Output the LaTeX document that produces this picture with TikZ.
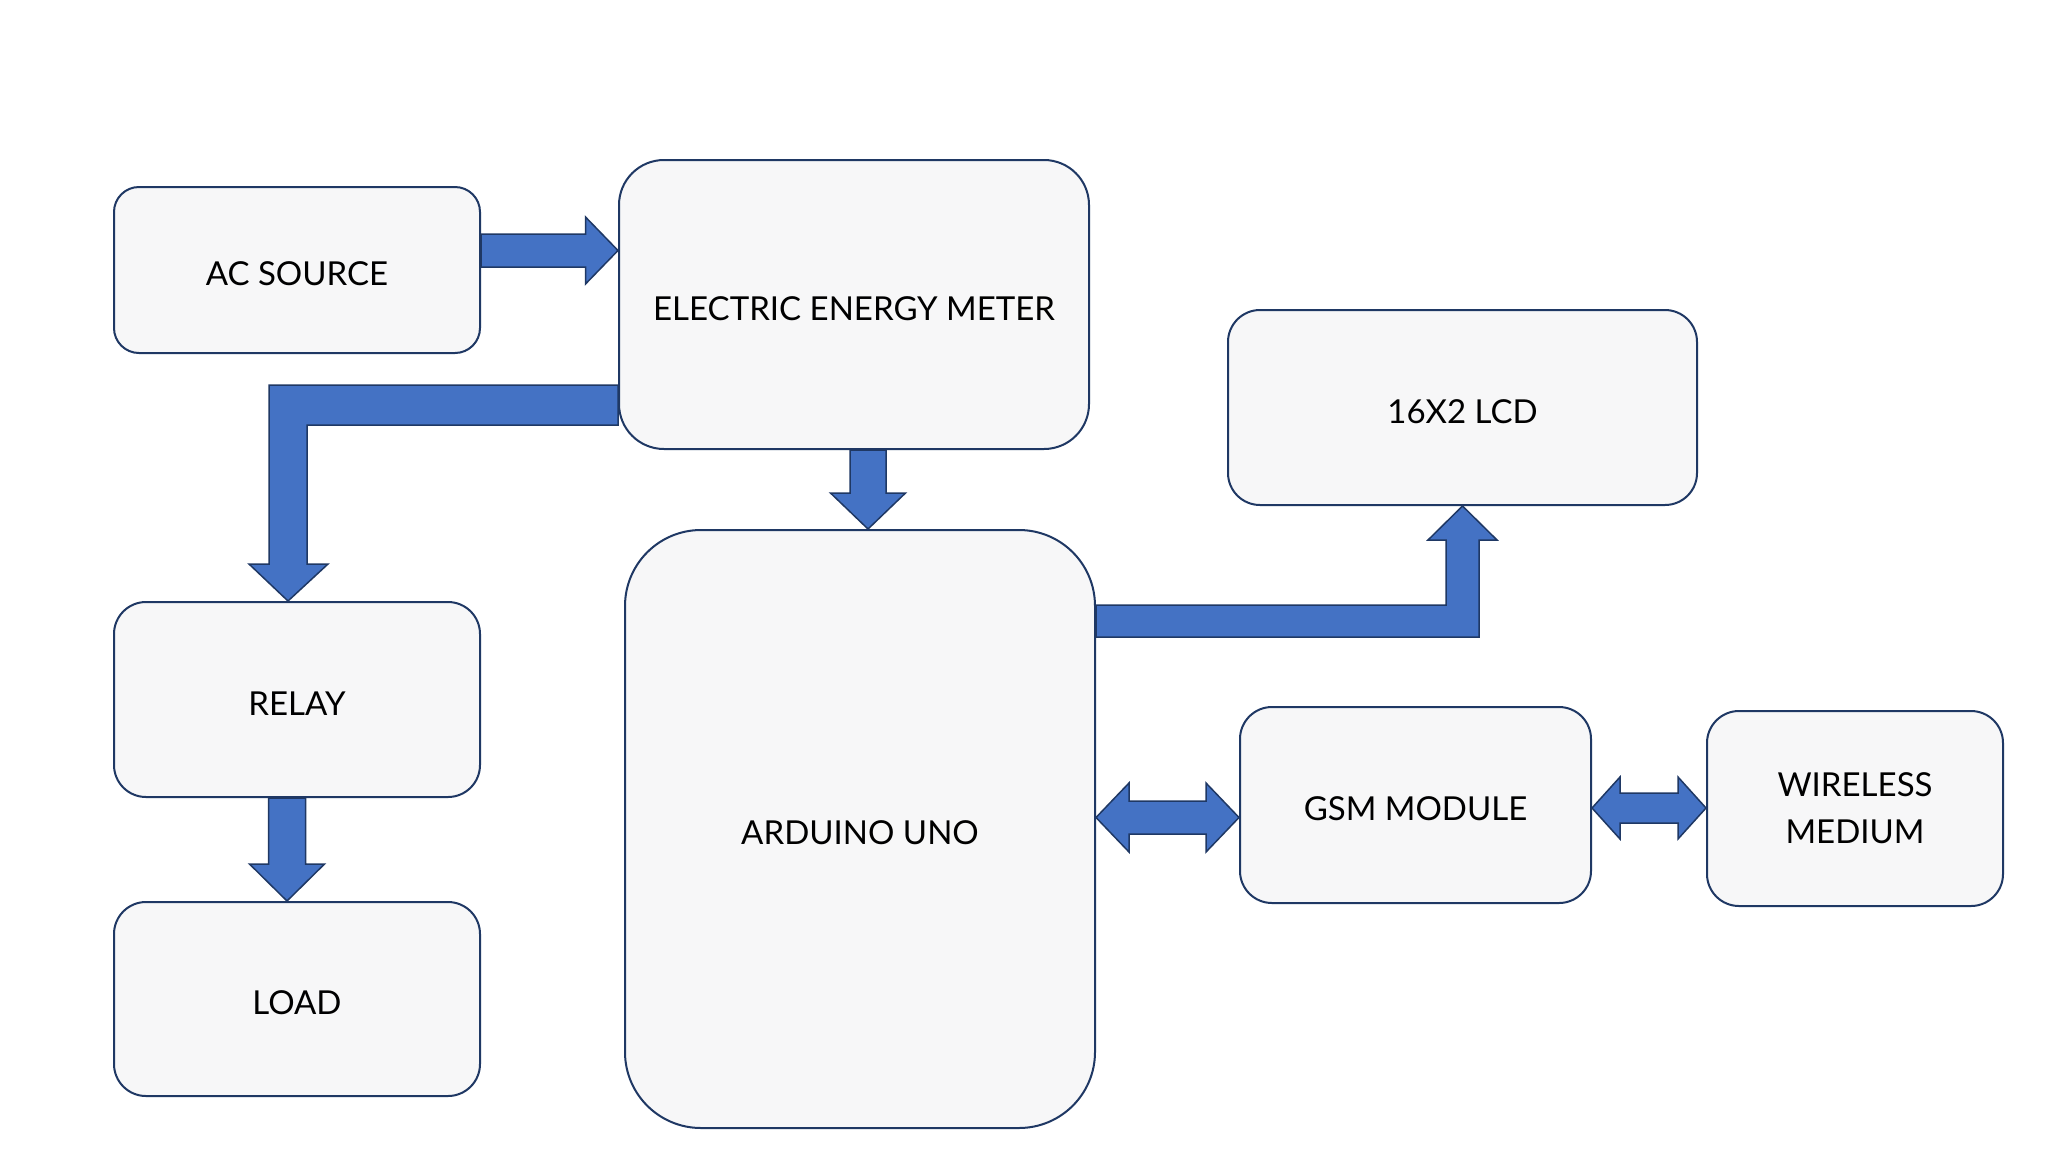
\documentclass[tikz,border=0pt]{standalone}
\usepackage{fontspec}
\setmainfont{Lato}
\usetikzlibrary{calc}
\definecolor{boxfill}{HTML}{F7F7F8}
\definecolor{boxline}{HTML}{1F3864}
\definecolor{arrfill}{HTML}{4472C4}
\definecolor{arrline}{HTML}{1F3864}
\tikzset{
  blk/.style={draw=boxline, fill=boxfill, line width=2pt, align=center,
    font=\fontsize{33}{47}\selectfont, inner sep=0pt,
    execute at begin node={\rule{0pt}{31.5pt}}},
  barrow/.style={fill=arrfill, draw=arrline, line width=1.5pt, line join=miter}
}
% single block arrow: #1 start, #2 tip, #3 shaft half width, #4 head half width, #5 head length
\newcommand{\blockarrow}[5]{%
  \coordinate (ba-b) at ($(#2)!#5!(#1)$);
  \path[barrow] ($(#1)!#3!90:(#2)$) -- ($(ba-b)!#3!90:(#2)$) -- ($(ba-b)!#4!90:(#2)$)
    -- (#2) -- ($(ba-b)!#4!-90:(#2)$) -- ($(ba-b)!#3!-90:(#2)$) -- ($(#1)!#3!-90:(#2)$) -- cycle;
}
% double block arrow: #1 tip A, #2 tip C, #3 shaft half, #4 head half, #5 head length
\newcommand{\dblarrow}[5]{%
  \coordinate (da-a) at ($(#1)!#5!(#2)$);
  \coordinate (da-c) at ($(#2)!#5!(#1)$);
  \path[barrow] (#1) -- ($(da-a)!#4!90:(#2)$) -- ($(da-a)!#3!90:(#2)$) -- ($(da-c)!#3!-90:(#1)$)
    -- ($(da-c)!#4!-90:(#1)$) -- (#2) -- ($(da-c)!#4!90:(#1)$) -- ($(da-c)!#3!90:(#1)$)
    -- ($(da-a)!#3!-90:(#2)$) -- ($(da-a)!#4!-90:(#2)$) -- cycle;
}
\begin{document}
\begin{tikzpicture}[x=1pt, y=-1pt]
\useasboundingbox[fill=white] (0,0) rectangle (2048,1152);

\node[blk, minimum width=366pt, minimum height=166pt, rounded corners=25pt] (ac) at (297,270) {AC SOURCE};
\node[blk, minimum width=470pt, minimum height=289pt, rounded corners=45pt] (eem) at (854,304.5) {ELECTRIC ENERGY METER};
\node[blk, minimum width=469pt, minimum height=195pt, rounded corners=32pt] (lcd) at (1462.5,407.5) {16X2 LCD};
\node[blk, minimum width=366pt, minimum height=195pt, rounded corners=32pt] (relay) at (297,699.5) {RELAY};
\node[blk, minimum width=366pt, minimum height=194pt, rounded corners=32pt] (load) at (297,999) {LOAD};
\node[blk, minimum width=470pt, minimum height=598pt, rounded corners=76pt] (ard) at (860,829) {ARDUINO UNO};
\node[blk, minimum width=351pt, minimum height=196pt, rounded corners=32pt] (gsm) at (1415.5,805) {GSM MODULE};
\node[blk, minimum width=296pt, minimum height=195pt, rounded corners=32pt] (wir) at (1855,808.5) {WIRELESS\\MEDIUM};

% AC SOURCE -> METER
\coordinate (acs) at ($(ac.east)+(0,-19.5)$);
\coordinate (act) at (eem.west |- acs);
\blockarrow{acs}{act}{16.5pt}{33.5pt}{32.5pt}

% METER -> ARDUINO
\coordinate (ems) at ($(eem.south)+(14,0)$);
\coordinate (emt) at ($(ard.north)+(8,0)$);
\blockarrow{ems}{emt}{18pt}{37.5pt}{36pt}

% RELAY -> LOAD
\coordinate (rls) at ($(relay.south)+(-10,0)$);
\coordinate (rlt) at ($(load.north)+(-10,0)$);
\blockarrow{rls}{rlt}{18.5pt}{37.5pt}{37pt}

% METER -> RELAY (elbow)
\coordinate (ert) at ($(relay.north)+(-9,0)$);
\path[barrow] (eem.west |- 0,385) -- (269,385) -- (269,564) -- (249,564) -- (ert)
  -- (328,564) -- (307,564) -- (307,425) -- (eem.west |- 0,425) -- cycle;

% ARDUINO -> LCD (elbow)
\path[barrow] (ard.east |- 0,605) -- (1446,605) -- (1446,540) -- (1428,540) -- (lcd.south)
  -- (1497,540) -- (1479,540) -- (1479,637) -- (ard.east |- 0,637) -- cycle;

% ARDUINO <-> GSM
\coordinate (ags) at ($(ard.east)+(0,-11.5)$);
\coordinate (agt) at (gsm.west |- ags);
\dblarrow{ags}{agt}{16.5pt}{34.5pt}{33pt}

% GSM <-> WIRELESS
\coordinate (gws) at ($(gsm.east)+(0,3)$);
\coordinate (gwt) at (wir.west |- gws);
\dblarrow{gws}{gwt}{15pt}{31pt}{28pt}
\end{tikzpicture}
\end{document}
